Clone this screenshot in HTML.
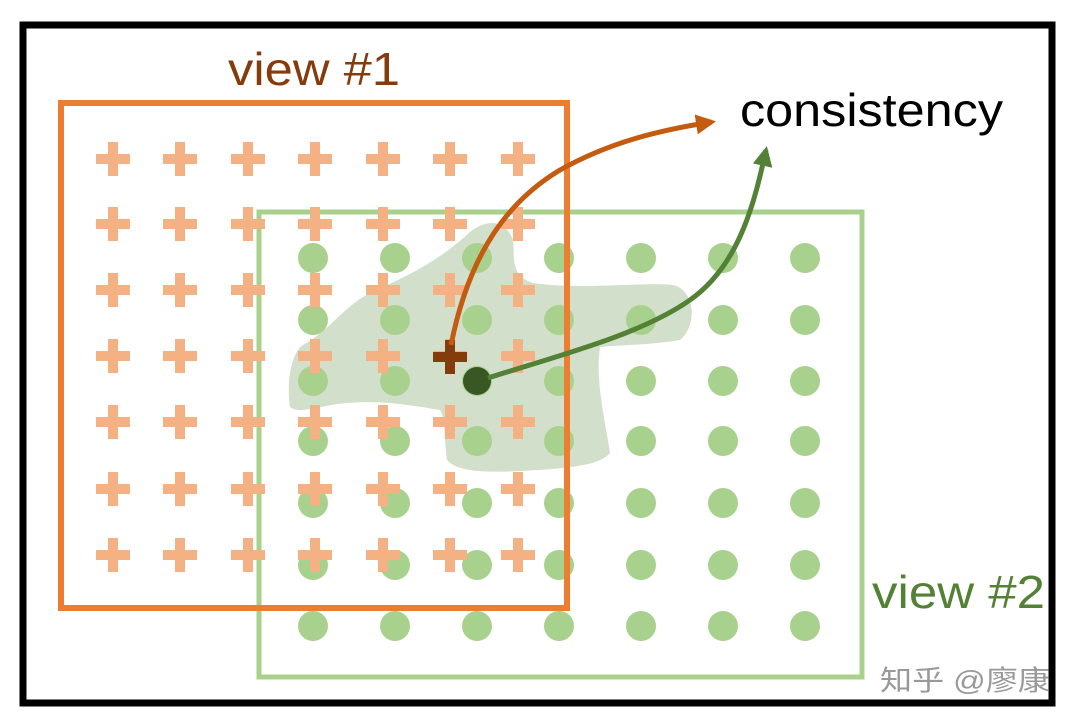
<!DOCTYPE html>
<html><head><meta charset="utf-8"><style>
html,body{margin:0;padding:0;background:#fff;}
svg{display:block;}
</style></head><body>
<svg width="1079" height="722" viewBox="0 0 1079 722" xmlns="http://www.w3.org/2000/svg">
<defs>
<marker id="ao" viewBox="0 0 10 10" refX="8" refY="5" markerWidth="4" markerHeight="4" orient="auto"><path d="M0,0 L10,5 L0,10 z" fill="#C55A11"/></marker>
<marker id="ag" viewBox="0 0 10 10" refX="8" refY="5" markerWidth="4" markerHeight="4" orient="auto"><path d="M0,0 L10,5 L0,10 z" fill="#538135"/></marker>
<g id="drow">
<circle cx="313" cy="0" r="15"/><circle cx="395" cy="0" r="15"/><circle cx="477" cy="0" r="15"/><circle cx="559" cy="0" r="15"/><circle cx="641" cy="0" r="15"/><circle cx="723" cy="0" r="15"/><circle cx="805" cy="0" r="15"/>
</g>
<g id="pl"><rect x="-17" y="-5" width="34" height="10"/><rect x="-5" y="-17" width="10" height="34"/></g>
<g id="prow">
<use href="#pl" x="113"/><use href="#pl" x="180"/><use href="#pl" x="248"/><use href="#pl" x="315"/><use href="#pl" x="383"/><use href="#pl" x="450"/><use href="#pl" x="518"/>
</g>
</defs>
<rect x="0" y="0" width="1079" height="722" fill="#fff"/>
<rect x="23" y="25" width="1029" height="678" fill="none" stroke="#000" stroke-width="7"/>
<path d="M290,407 C286,380 292,352 303,345 C330,330 345,305 372,292 C410,275 440,260 470,232 C485,220 505,218 513,240 C515,260 510,275 533,283 C580,290 640,282 673,285 C695,290 698,325 680,340 C650,345 620,345 600,347 C595,380 605,420 610,453 C600,465 575,467 540,470 C500,472 460,475 447,460 C444,440 446,420 440,410 C410,405 380,400 347,403 C320,405 300,415 290,407 Z" fill="#D2DFCB"/>
<rect x="259" y="212" width="603" height="465" fill="none" stroke="#A9D18E" stroke-width="5"/>
<g fill="#A9D18E">
<use href="#drow" y="258"/><use href="#drow" y="320"/><use href="#drow" y="381"/><use href="#drow" y="441"/><use href="#drow" y="503"/><use href="#drow" y="565"/><use href="#drow" y="626"/>
</g>
<g fill="#F4B183">
<use href="#prow" y="159"/><use href="#prow" y="224"/><use href="#prow" y="290"/><use href="#prow" y="356"/><use href="#prow" y="422"/><use href="#prow" y="489"/><use href="#prow" y="555"/>
</g>
<rect x="61" y="103" width="506" height="505" fill="none" stroke="#ED7D31" stroke-width="6"/>
<use href="#pl" x="450" y="357" fill="#843C0C"/>
<circle cx="477" cy="381" r="14" fill="#385723"/>
<path d="M451,345 C470,250 510,200 560,170 C610,142 660,130 712,122" fill="none" stroke="#C55A11" stroke-width="5" marker-end="url(#ao)"/>
<path d="M488,378 C560,355 640,335 690,300 C740,265 755,200 766,150" fill="none" stroke="#538135" stroke-width="5" marker-end="url(#ag)"/>
<g font-family="Liberation Sans, sans-serif">
<text x="228" y="85" font-size="46" fill="#843C0C" textLength="172" lengthAdjust="spacingAndGlyphs">view #1</text>
<text x="740" y="126" font-size="46" fill="#000" textLength="263" lengthAdjust="spacingAndGlyphs">consistency</text>
<text x="872" y="608" font-size="46" fill="#538135" textLength="173" lengthAdjust="spacingAndGlyphs">view #2</text>
<text x="880" y="690" font-size="28" fill="#999" font-family="Liberation Sans, Noto Sans CJK SC, sans-serif" textLength="170" lengthAdjust="spacingAndGlyphs">知乎 @廖康</text>
</g>
</svg>
</body></html>
